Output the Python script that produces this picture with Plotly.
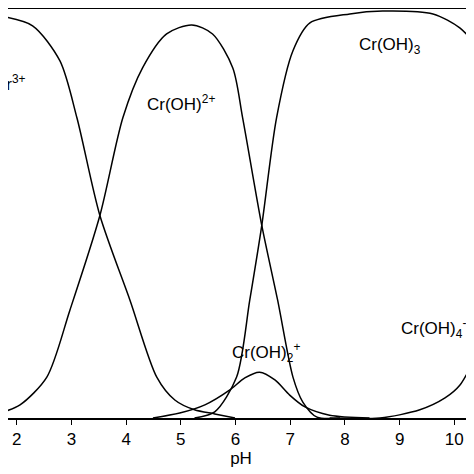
import plotly.graph_objects as go

# species distribution of Cr(III) vs pH
ph_cr3 = [1.69, 2.29, 2.79, 3.10, 3.52, 4.07, 4.56, 4.89, 5.25, 5.62, 5.99]
cr3 = [98.3, 95.9, 87.3, 73.4, 49.5, 28.8, 10.0, 4.4, 2.0, 1.0, 0]

ph_croh = [1.69, 2.06, 2.55, 2.97, 3.52, 3.94, 4.30, 4.74, 5.20, 5.58, 5.95, 6.13, 6.48, 6.77, 7.05, 7.23, 7.49, 7.91]
croh = [1.2, 3.2, 10.0, 26.3, 49.5, 73.4, 85.6, 93.9, 96.1, 93.9, 85.6, 73.4, 47.1, 28.8, 10.0, 3.9, 0.2, 0]

ph_croh3 = [5.25, 5.62, 6.02, 6.26, 6.48, 6.75, 7.05, 7.36, 8.09, 8.69, 9.61, 10.10, 10.36]
croh3 = [0, 1.5, 10.0, 28.8, 47.1, 73.4, 89.8, 96.6, 98.8, 99.5, 98.8, 95.4, 91.7]

ph_croh2 = [4.49, 4.98, 5.44, 5.89, 6.17, 6.44, 6.72, 6.99, 7.27, 7.72, 8.45]
croh2 = [0, 1.2, 3.2, 6.8, 9.8, 11.2, 9.3, 5.6, 2.7, 0.7, 0]

ph_croh4 = [7.72, 8.64, 9.37, 9.83, 10.10, 10.36]
croh4 = [0, 0, 2.0, 4.9, 8.0, 14.1]

fig = go.Figure()
for xs, ys in [(ph_cr3, cr3), (ph_croh, croh), (ph_croh3, croh3),
               (ph_croh2, croh2), (ph_croh4, croh4)]:
    fig.add_trace(go.Scatter(x=xs, y=ys, mode="lines", cliponaxis=True,
                             line=dict(color="black", width=1.5, shape="spline", smoothing=0.8)))

labels = [
    (2.2, 82, "Cr<sup>3+</sup>", "right"),
    (5.0, 77, "Cr(OH)<sup>2+</sup>", "center"),
    (8.82, 91, "Cr(OH)<sub>3</sub>", "center"),
    (6.55, 16, "Cr(OH)<sub>2</sub><sup>+</sup>", "center"),
    (8.98, 22, "Cr(OH)<sub>4</sub><sup>-</sup>", "left"),
]
for x, y, t, a in labels:
    fig.add_annotation(x=x, y=y, text=t, xanchor=a, showarrow=False,
                       font=dict(size=17, color="black"))

# page body has an 8px margin, so the figure is shrunk and the x range starts at the visible edge
fig.update_layout(
    width=466, height=466, showlegend=False,
    paper_bgcolor="white", plot_bgcolor="white",
    margin=dict(l=0, r=0, t=1, b=56),
    font=dict(family="Liberation Sans, Arial", color="black"),
    xaxis=dict(range=[1.84, 10.36], tickvals=[2, 3, 4, 5, 6, 7, 8, 9, 10],
               showline=True, mirror=True, linecolor="black", linewidth=1.5,
               ticks="outside", ticklen=5, tickcolor="black", showgrid=False,
               zeroline=False, tickfont=dict(size=17),
               title=dict(text="pH", font=dict(size=17), standoff=2)),
    yaxis=dict(range=[0, 100], visible=False),
)

fig.write_html("out.html")
